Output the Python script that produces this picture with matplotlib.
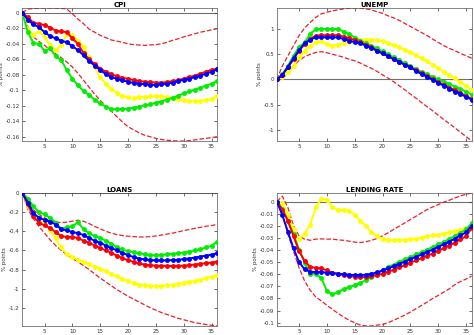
import numpy as np
import matplotlib
matplotlib.use('Agg')
import matplotlib.pyplot as plt
from matplotlib.ticker import FuncFormatter

plt.rcParams['font.family'] = ['DejaVu Sans']
plt.rcParams['axes.unicode_minus'] = False

h = np.arange(1, 37)

# CPI
cpi_red = [0, -0.0056, -0.013, -0.014, -0.016, -0.019, -0.023, -0.024, -0.025, -0.033, -0.040, -0.052,
           -0.060, -0.066, -0.072, -0.076, -0.079, -0.082, -0.084, -0.085, -0.087, -0.088, -0.089, -0.0895,
           -0.090, -0.090, -0.0895, -0.088, -0.087, -0.085, -0.083, -0.081, -0.0785, -0.076, -0.0735, -0.0725]
cpi_blue = [0, -0.009, -0.015, -0.0185, -0.025, -0.030, -0.033, -0.036, -0.038, -0.043, -0.048, -0.055,
            -0.062, -0.068, -0.074, -0.079, -0.083, -0.085, -0.087, -0.089, -0.0905, -0.0915, -0.092, -0.093,
            -0.093, -0.092, -0.0915, -0.090, -0.088, -0.0865, -0.085, -0.083, -0.081, -0.0785, -0.076, -0.073]
cpi_green = [0, -0.025, -0.039, -0.040, -0.049, -0.046, -0.056, -0.061, -0.074, -0.085, -0.0935, -0.101,
             -0.106, -0.112, -0.117, -0.121, -0.1245, -0.1245, -0.124, -0.1235, -0.1225, -0.121, -0.1195, -0.118,
             -0.116, -0.1145, -0.112, -0.1095, -0.107, -0.104, -0.1015, -0.099, -0.0965, -0.094, -0.0915, -0.088]
cpi_yellow = [0, -0.021, -0.029, -0.024, -0.031, -0.042, -0.048, -0.042, -0.027, -0.029, -0.036, -0.044,
              -0.057, -0.070, -0.083, -0.0915, -0.098, -0.103, -0.107, -0.109, -0.110, -0.109, -0.1085, -0.108,
              -0.1075, -0.108, -0.1085, -0.110, -0.1115, -0.113, -0.1135, -0.114, -0.1135, -0.113, -0.111, -0.108]
cpi_up = [0, 0.005, 0.0055, 0.006, 0.0062, 0.0062, 0.006, 0.0058, 0.005, -0.0013, -0.008, -0.014,
          -0.021, -0.025, -0.029, -0.032, -0.035, -0.0365, -0.038, -0.040, -0.041, -0.0415, -0.042, -0.0415,
          -0.041, -0.040, -0.038, -0.0355, -0.0335, -0.031, -0.029, -0.027, -0.025, -0.0235, -0.022, -0.0205]
cpi_lo = [0, -0.018, -0.031, -0.037, -0.042, -0.048, -0.053, -0.058, -0.0635, -0.070, -0.078, -0.087,
          -0.096, -0.105, -0.113, -0.120, -0.127, -0.134, -0.141, -0.147, -0.151, -0.155, -0.158, -0.160,
          -0.162, -0.1635, -0.1645, -0.165, -0.1655, -0.1655, -0.165, -0.164, -0.163, -0.162, -0.161, -0.160]

# UNEMP
un_red = [0, 0.09, 0.24, 0.40, 0.57, 0.70, 0.80, 0.87, 0.875, 0.875, 0.875, 0.875,
          0.85, 0.82, 0.78, 0.735, 0.69, 0.635, 0.57, 0.515, 0.47, 0.40, 0.35, 0.29,
          0.24, 0.185, 0.12, 0.066, 0.007, -0.053, -0.106, -0.16, -0.21, -0.27, -0.325, -0.385]
un_blue = [0, 0.09, 0.25, 0.42, 0.58, 0.715, 0.79, 0.835, 0.835, 0.835, 0.835, 0.835,
           0.80, 0.77, 0.735, 0.715, 0.67, 0.62, 0.57, 0.515, 0.46, 0.40, 0.35, 0.29,
           0.24, 0.17, 0.106, 0.053, -0.007, -0.066, -0.126, -0.18, -0.24, -0.29, -0.345, -0.40]
un_green = [0, 0.106, 0.27, 0.47, 0.64, 0.735, 0.90, 1.0, 1.0, 1.0, 1.0, 1.0,
            0.95, 0.90, 0.83, 0.77, 0.715, 0.67, 0.615, 0.555, 0.50, 0.44, 0.385, 0.32,
            0.265, 0.205, 0.15, 0.106, 0.05, 0.0, -0.045, -0.09, -0.145, -0.19, -0.245, -0.30]
un_yellow = [0, 0.04, 0.14, 0.27, 0.44, 0.57, 0.67, 0.735, 0.755, 0.70, 0.67, 0.69,
             0.715, 0.75, 0.77, 0.78, 0.79, 0.79, 0.78, 0.755, 0.72, 0.68, 0.635, 0.59,
             0.535, 0.48, 0.42, 0.36, 0.29, 0.225, 0.15, 0.086, 0.02, -0.046, -0.126, -0.21]
un_up = [0, 0.27, 0.47, 0.67, 0.87, 1.02, 1.13, 1.23, 1.30, 1.33, 1.36, 1.38,
         1.40, 1.41, 1.415, 1.41, 1.40, 1.38, 1.34, 1.31, 1.26, 1.22, 1.17, 1.11,
         1.05, 0.99, 0.93, 0.87, 0.80, 0.735, 0.67, 0.615, 0.57, 0.515, 0.47, 0.42]
un_lo = [0, 0.0, 0.14, 0.27, 0.38, 0.45, 0.50, 0.535, 0.55, 0.53, 0.50, 0.47,
         0.44, 0.40, 0.37, 0.325, 0.27, 0.22, 0.16, 0.09, 0.026, -0.046, -0.126, -0.205,
         -0.29, -0.37, -0.457, -0.54, -0.62, -0.71, -0.795, -0.875, -0.96, -1.046, -1.13, -1.22]

# LOANS
lo_red = [0, -0.12, -0.245, -0.31, -0.34, -0.365, -0.41, -0.45, -0.46, -0.46, -0.47, -0.50,
          -0.52, -0.55, -0.575, -0.60, -0.626, -0.655, -0.68, -0.705, -0.72, -0.737, -0.748, -0.755,
          -0.76, -0.762, -0.762, -0.765, -0.762, -0.76, -0.755, -0.748, -0.74, -0.734, -0.727, -0.717]
lo_blue = [0, -0.10, -0.21, -0.26, -0.28, -0.30, -0.33, -0.38, -0.39, -0.41, -0.42, -0.44,
           -0.47, -0.50, -0.52, -0.55, -0.575, -0.60, -0.626, -0.65, -0.67, -0.685, -0.695, -0.70,
           -0.705, -0.705, -0.705, -0.70, -0.70, -0.69, -0.685, -0.675, -0.665, -0.655, -0.645, -0.63]
lo_green = [0, -0.06, -0.14, -0.20, -0.225, -0.26, -0.31, -0.375, -0.36, -0.35, -0.305, -0.38,
            -0.42, -0.45, -0.47, -0.50, -0.53, -0.57, -0.59, -0.61, -0.62, -0.63, -0.64, -0.65,
            -0.65, -0.647, -0.643, -0.637, -0.63, -0.623, -0.612, -0.60, -0.588, -0.57, -0.55, -0.51]
lo_yellow = [0, -0.14, -0.225, -0.28, -0.31, -0.39, -0.47, -0.57, -0.64, -0.67, -0.70, -0.72,
             -0.745, -0.77, -0.79, -0.817, -0.845, -0.873, -0.897, -0.92, -0.94, -0.957, -0.967, -0.974,
             -0.974, -0.974, -0.967, -0.96, -0.95, -0.94, -0.93, -0.918, -0.905, -0.89, -0.877, -0.86]
lo_up = [0, -0.09, -0.175, -0.225, -0.26, -0.295, -0.305, -0.31, -0.305, -0.295, -0.285, -0.295,
         -0.32, -0.35, -0.375, -0.40, -0.42, -0.435, -0.445, -0.452, -0.456, -0.46, -0.46, -0.456,
         -0.45, -0.44, -0.43, -0.42, -0.407, -0.393, -0.383, -0.37, -0.36, -0.348, -0.34, -0.33]
lo_lo = [0, -0.17, -0.27, -0.35, -0.42, -0.49, -0.55, -0.60, -0.645, -0.685, -0.72, -0.76,
         -0.80, -0.845, -0.89, -0.93, -0.97, -1.01, -1.045, -1.08, -1.11, -1.14, -1.17, -1.20,
         -1.225, -1.25, -1.27, -1.29, -1.31, -1.325, -1.34, -1.355, -1.365, -1.375, -1.383, -1.39]

# LENDING RATE
lr_red = [0, -0.0066, -0.0162, -0.0286, -0.041, -0.049, -0.054, -0.0547, -0.0552, -0.0569, -0.0588, -0.0596,
          -0.0607, -0.0615, -0.062, -0.0624, -0.0624, -0.0618, -0.0607, -0.0596, -0.058, -0.0563, -0.0544, -0.0525,
          -0.0505, -0.0486, -0.0467, -0.0448, -0.0429, -0.0407, -0.0385, -0.0363, -0.0338, -0.0313, -0.0286, -0.022]
lr_blue = [0, -0.0113, -0.025, -0.0387, -0.050, -0.056, -0.058, -0.0582, -0.0582, -0.0588, -0.0593, -0.0596,
           -0.060, -0.0604, -0.0607, -0.0607, -0.0604, -0.0596, -0.0585, -0.0569, -0.0552, -0.0533, -0.0514, -0.0495,
           -0.0475, -0.0456, -0.0437, -0.0415, -0.0396, -0.0374, -0.0352, -0.033, -0.0305, -0.028, -0.0253, -0.020]
lr_green = [0, -0.0058, -0.0157, -0.027, -0.0396, -0.0505, -0.0596, -0.0596, -0.063, -0.074, -0.0767, -0.0745,
            -0.0725, -0.0706, -0.069, -0.067, -0.065, -0.0624, -0.0596, -0.0569, -0.054, -0.052, -0.0497, -0.0478,
            -0.0459, -0.0437, -0.0418, -0.0396, -0.0376, -0.0354, -0.0332, -0.0308, -0.0283, -0.0258, -0.023, -0.018]
lr_yellow = [0, -0.001, -0.0107, -0.023, -0.031, -0.0267, -0.019, -0.0047, 0.0025, 0.0014, -0.0047, -0.0066,
             -0.0071, -0.0074, -0.0107, -0.0157, -0.0203, -0.0253, -0.0286, -0.0305, -0.0316, -0.0319, -0.0319, -0.0316,
             -0.031, -0.0305, -0.0297, -0.0288, -0.028, -0.0272, -0.0264, -0.0255, -0.0247, -0.0234, -0.0217, -0.0203]
lr_up = [0, 0.0044, -0.005, -0.020, -0.0286, -0.031, -0.032, -0.031, -0.0308, -0.031, -0.031, -0.0316,
         -0.032, -0.0327, -0.0335, -0.0338, -0.0332, -0.032, -0.0305, -0.0283, -0.0258, -0.023, -0.0203, -0.0176,
         -0.0148, -0.0121, -0.0093, -0.0066, -0.0044, -0.0025, -0.0005, 0.0011, 0.003, 0.0047, 0.006, 0.0071]
lr_lo = [0, -0.0107, -0.027, -0.041, -0.0547, -0.0657, -0.0733, -0.0788, -0.082, -0.0857, -0.089, -0.0923,
         -0.0953, -0.098, -0.100, -0.102, -0.1027, -0.1027, -0.102, -0.1014, -0.100, -0.098, -0.0959, -0.0937,
         -0.0912, -0.0885, -0.0857, -0.083, -0.080, -0.0775, -0.0747, -0.072, -0.0685, -0.066, -0.064, -0.0615]

panels = [
    ('CPI', cpi_red, cpi_blue, cpi_green, cpi_yellow, cpi_up, cpi_lo, np.arange(-0.16, 0.001, 0.02)),
    ('UNEMP', un_red, un_blue, un_green, un_yellow, un_up, un_lo, [-1, -0.5, 0, 0.5, 1]),
    ('LOANS', lo_red, lo_blue, lo_green, lo_yellow, lo_up, lo_lo, np.arange(-1.2, 0.01, 0.2)),
    ('LENDING RATE', lr_red, lr_blue, lr_green, lr_yellow, lr_up, lr_lo, np.arange(-0.1, 0.0001, 0.01)),
]

# positions in figure fraction (left, bottom, width, height)
boxes = [
    (0.047, 0.579, 0.411, 0.397),
    (0.584, 0.579, 0.411, 0.397),
    (0.047, 0.027, 0.411, 0.397),
    (0.584, 0.027, 0.411, 0.397),
]

fig = plt.figure(figsize=(4.74, 3.35), dpi=100)

def fmt(v, pos):
    s = '%g' % round(v, 6)
    return '0' if s in ('-0', '0') else s

for (title, red, blue, green, yellow, up, lo, yt), box in zip(panels, boxes):
    ax = fig.add_axes(box)
    ax.axhline(0, color='#707070', lw=0.8, zorder=1)
    ax.plot(h, up, '--', color='#e8202a', lw=0.9, zorder=2)
    ax.plot(h, lo, '--', color='#e8202a', lw=0.9, zorder=2)
    ax.plot(h, yellow, '-o', color='yellow', ms=2.5, lw=1.4, zorder=3)
    ax.plot(h, green, '-o', color='#00ee00', ms=2.5, lw=1.4, zorder=4)
    ax.plot(h, red, '-o', color='red', ms=2.5, lw=1.4, zorder=5)
    ax.plot(h, blue, '-o', color='blue', ms=2.5, lw=1.4, zorder=6)
    ax.set_xlim(1, 36)
    lo_v = min(min(lo), min(red), min(blue), min(green), min(yellow))
    hi_v = max(max(up), max(red), max(blue), max(green), max(yellow))
    ax.set_ylim(lo_v, hi_v)
    ax.set_xticks([5, 10, 15, 20, 25, 30, 35])
    ax.set_yticks(yt)
    ax.yaxis.set_major_formatter(FuncFormatter(fmt))
    ax.tick_params(direction='in', length=2, width=0.5, labelsize=4, pad=2,
                   top=True, right=True, colors='#333333')
    for s in ax.spines.values():
        s.set_linewidth(0.5)
        s.set_color('#555555')
    ax.set_title(title, fontsize=5, fontweight='bold', pad=1)
    ax.set_ylabel('% points', fontsize=4, labelpad=1, color='#333333')

fig.savefig('out.png', dpi=100)
